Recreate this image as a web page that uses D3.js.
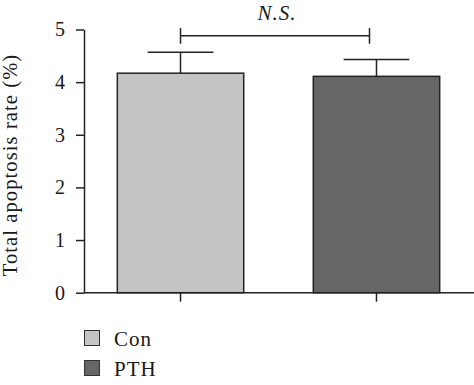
<!doctype html>
<html>
<head>
    <script src="https://d3js.org/d3.v7.min.js"></script>
</head>
<style>
    body { margin: 0; background: #fff; }
    svg text {
        font-family: "Liberation Serif", "Times New Roman", serif;
        fill: #1a1a1a;
    }
</style>
<body>
<script>
    // data
    var groups = ["Con", "PTH"];
    var means = [4.17, 4.11];
    var errors = [0.40, 0.32];
    var colors = ["#c4c4c4", "#666666"];
    var yTicks = [0, 1, 2, 3, 4, 5];
    var yTitle = "Total apoptosis rate (%)";
    var sigLabel = "N.S.";

    var width = 474, height = 385;
    var plotLeft = 84, plotTop = 29.5, plotBottom = 292.7;

    var svg = d3.select("body").append("svg")
        .attr("width", width)
        .attr("height", height);

    var x = d3.scaleBand()
        .domain(groups)
        .range([plotLeft, 473])
        .paddingInner(0.355)
        .paddingOuter(0.17);

    var y = d3.scaleLinear()
        .domain([0, 5])
        .range([plotBottom, plotTop]);

    // bars
    svg.selectAll("rect.bar")
        .data(groups)
        .enter().append("rect")
        .attr("class", "bar")
        .attr("x", function(d) { return x(d); })
        .attr("y", function(d, i) { return y(means[i]); })
        .attr("width", x.bandwidth())
        .attr("height", function(d, i) { return y(0) - y(means[i]); })
        .attr("fill", function(d, i) { return colors[i]; })
        .attr("stroke", "#222")
        .attr("stroke-width", 1.5);

    // upper error bars only
    var capW = x.bandwidth() * 0.52;
    var err = svg.selectAll("g.err")
        .data(groups)
        .enter().append("g")
        .attr("class", "err")
        .attr("stroke", "#222")
        .attr("stroke-width", 1.5);

    err.append("line")
        .attr("x1", function(d) { return x(d) + x.bandwidth() / 2; })
        .attr("x2", function(d) { return x(d) + x.bandwidth() / 2; })
        .attr("y1", function(d, i) { return y(means[i]); })
        .attr("y2", function(d, i) { return y(means[i] + errors[i]); });

    err.append("line")
        .attr("x1", function(d) { return x(d) + x.bandwidth() / 2 - capW / 2; })
        .attr("x2", function(d) { return x(d) + x.bandwidth() / 2 + capW / 2; })
        .attr("y1", function(d, i) { return y(means[i] + errors[i]); })
        .attr("y2", function(d, i) { return y(means[i] + errors[i]); });

    // y axis
    var yAxis = svg.append("g")
        .attr("transform", "translate(" + plotLeft + ",0)")
        .call(d3.axisLeft(y).tickValues(yTicks).tickFormat(d3.format("d"))
            .tickSize(8).tickPadding(11).tickSizeOuter(0));
    yAxis.select(".domain").attr("stroke", "#222").attr("stroke-width", 1.5);
    yAxis.selectAll(".tick line").attr("stroke", "#222").attr("stroke-width", 1.5);
    yAxis.selectAll(".tick text")
        .style("font-family", "'Liberation Serif', serif")
        .style("font-size", "20px");

    // x axis, no labels, runs to the edge
    var xAxis = svg.append("g")
        .attr("transform", "translate(0," + plotBottom + ")")
        .call(d3.axisBottom(x).tickSize(9).tickSizeOuter(0).tickFormat(""));
    xAxis.select(".domain").attr("d", "M" + plotLeft + ",0H" + width)
        .attr("stroke", "#222").attr("stroke-width", 1.5);
    xAxis.selectAll(".tick line").attr("stroke", "#222").attr("stroke-width", 1.5);

    // y title
    svg.append("text")
        .attr("transform", "translate(17,165) rotate(-90)")
        .attr("text-anchor", "middle")
        .style("font-size", "20.5px")
        .attr("letter-spacing", 1.1)
        .text(yTitle);

    // significance bracket
    var bx1 = x("Con") + x.bandwidth() / 2;
    var bx2 = x("PTH") + x.bandwidth() / 2 - 7;
    var by = y(4.88);
    var br = svg.append("g").attr("stroke", "#222").attr("stroke-width", 1.5);
    br.append("line").attr("x1", bx1).attr("x2", bx2).attr("y1", by).attr("y2", by);
    br.append("line").attr("x1", bx1).attr("x2", bx1).attr("y1", y(5.03)).attr("y2", y(4.73));
    br.append("line").attr("x1", bx2).attr("x2", bx2).attr("y1", y(5.03)).attr("y2", y(4.73));

    svg.append("text")
        .attr("x", (bx1 + bx2) / 2 + 2)
        .attr("y", 20)
        .attr("text-anchor", "middle")
        .style("font-size", "21px")
        .style("font-style", "italic")
        .attr("letter-spacing", 1)
        .text(sigLabel);

    // legend
    var legend = svg.selectAll("g.legend")
        .data(groups)
        .enter().append("g")
        .attr("class", "legend")
        .attr("transform", function(d, i) { return "translate(84," + (330 + i * 30) + ")"; });

    legend.append("rect")
        .attr("x", 0.5).attr("y", 0.5)
        .attr("width", 15).attr("height", 15)
        .attr("fill", function(d, i) { return colors[i]; })
        .attr("stroke", "#333")
        .attr("stroke-width", 1);

    legend.append("text")
        .attr("x", 30)
        .attr("y", 16)
        .style("font-size", "21px")
        .attr("letter-spacing", 1)
        .text(function(d) { return d; });
</script>
</body>
</html>
